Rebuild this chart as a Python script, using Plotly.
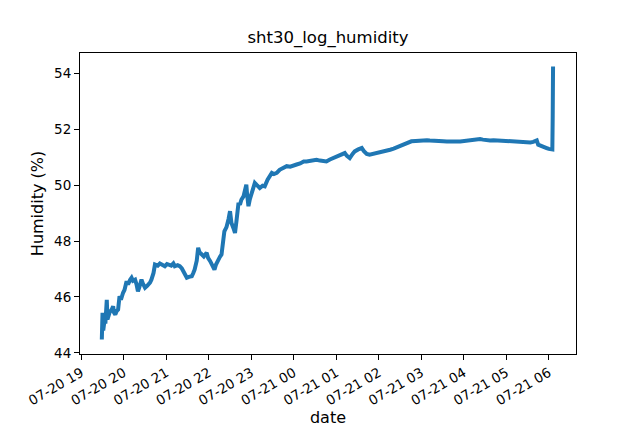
import pandas as pd
import plotly.graph_objects as go

# minutes after 2021-07-20 19:00, and humidity readings (%)
minutes = [
    29, 30, 31, 32, 33, 34, 36, 37, 38, 40, 43, 45, 46, 48, 50, 52, 54, 56, 59, 61,
    64, 66, 69, 71, 73, 76, 78, 80, 82, 85, 87, 90, 93, 97, 99, 102, 104, 108, 111, 114,
    118, 121, 123, 127, 130, 132, 136, 139, 142, 144, 146, 149, 152, 156, 158, 160, 163, 165, 167, 170,
    173, 177, 179, 182, 185, 188, 190, 193, 196, 198, 200, 202, 205, 207, 208, 210, 211, 212, 215, 217,
    219, 222, 224, 226, 229, 231, 233, 234, 236, 238, 241, 243, 245, 248, 252, 256, 259, 263, 266, 269,
    272, 276, 280, 285, 290, 295, 300, 304, 309, 314, 318, 323, 328, 332, 337, 342, 346, 351, 356, 361,
    366, 370, 372, 375, 379, 383, 386, 391, 396, 399, 403, 407, 412, 417, 422, 427, 431, 436, 441, 445,
    450, 455, 461, 466, 472, 477, 483, 488, 492, 497, 502, 506, 511, 516, 520, 525, 530, 535, 540, 544,
    549, 553, 558, 563, 567, 572, 577, 582, 587, 591, 596, 601, 606, 610, 615, 619, 624, 629, 634, 638,
    643, 645, 648, 651, 654, 657, 660, 663, 665, 665.5, 666,
]
humidity = [
    44.48, 45.43, 44.80, 44.95, 45.20, 45.05, 45.90, 45.20, 45.31, 45.45, 45.55, 45.67, 45.45, 45.37, 45.50, 45.55, 46.03, 45.90, 46.15, 46.25,
    46.56, 46.45, 46.62, 46.69, 46.58, 46.62, 46.45, 46.20, 46.35, 46.62, 46.48, 46.33, 46.40, 46.51, 46.62, 46.86, 47.16, 47.12, 47.20, 47.16,
    47.10, 47.18, 47.16, 47.12, 47.20, 47.10, 47.14, 47.10, 47.02, 46.92, 46.80, 46.69, 46.72, 46.74, 46.85, 46.98, 47.30, 47.76, 47.60, 47.52,
    47.45, 47.58, 47.40, 47.28, 47.10, 46.98, 47.15, 47.34, 47.45, 47.52, 47.90, 48.35, 48.50, 48.65, 48.80, 49.07, 48.75, 48.65, 48.45, 48.29,
    48.70, 49.37, 49.30, 49.48, 49.60, 49.85, 50.02, 49.70, 49.25, 49.50, 49.72, 49.95, 50.08, 50.00, 49.90, 49.98, 49.96, 50.20, 50.35, 50.44,
    50.40, 50.44, 50.55, 50.62, 50.68, 50.66, 50.72, 50.74, 50.78, 50.85, 50.85, 50.88, 50.90, 50.91, 50.88, 50.86, 50.85, 50.92, 50.98, 51.03,
    51.08, 51.12, 51.15, 51.05, 50.97, 51.12, 51.21, 51.28, 51.33, 51.22, 51.12, 51.09, 51.12, 51.14, 51.15, 51.19, 51.23, 51.27, 51.31, 51.35,
    51.39, 51.44, 51.49, 51.57, 51.58, 51.60, 51.60, 51.61, 51.60, 51.60, 51.59, 51.58, 51.57, 51.56, 51.55, 51.55, 51.56, 51.56, 51.58, 51.57,
    51.60, 51.63, 51.65, 51.65, 51.63, 51.61, 51.60, 51.61, 51.60, 51.60, 51.60, 51.59, 51.58, 51.58, 51.57, 51.55, 51.54, 51.53, 51.53, 51.55,
    51.60, 51.45, 51.41, 51.38, 51.34, 51.33, 51.30, 51.27, 51.28, 52.40, 54.25,
]

start = pd.Timestamp("2021-07-20 19:00")
dates = start + pd.to_timedelta(minutes, unit="min")

fig = go.Figure()
fig.add_trace(go.Scatter(
    x=dates, y=humidity, mode="lines",
    line=dict(color="#1f77b4", width=4),
))

axis_style = dict(
    showgrid=False, zeroline=False, showline=True, linecolor="black", linewidth=1,
    mirror=True, ticks="outside", ticklen=5, tickcolor="black", automargin=False,
    tickfont=dict(size=13.5, color="black"),
)

# page body has an 8px margin, so the plot box is pulled up/left by 8px
fig.update_layout(
    width=640, height=443,
    margin=dict(l=72, r=72, t=45, b=97),
    paper_bgcolor="white", plot_bgcolor="white",
    font=dict(family="DejaVu Sans", size=13.5, color="black"),
    title=dict(text="sht30_log_humidity", x=0.5, xanchor="center", y=0.935, yanchor="middle",
               font=dict(size=16.5)),
    showlegend=False,
    xaxis=dict(
        axis_style,
        range=[start - pd.Timedelta(minutes=1.8), start + pd.Timedelta(minutes=698.4)],
        tick0=start, dtick=3600000, tickformat="%m-%d %H", tickangle=-30,
        title=dict(text="date", standoff=2),
    ),
    yaxis=dict(
        axis_style,
        range=[43.96, 54.73], tick0=44, dtick=2,
        title=dict(text="Humidity (%)", standoff=6),
    ),
)

fig.write_html("out.html")
